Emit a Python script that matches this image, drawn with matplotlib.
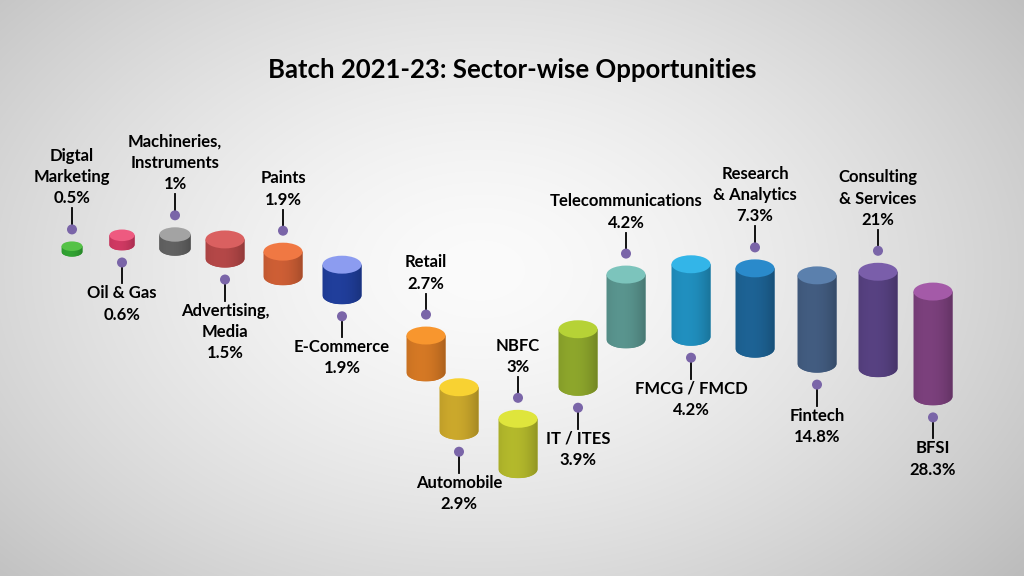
import numpy as np
import matplotlib
matplotlib.use("Agg")
import matplotlib.pyplot as plt
from matplotlib.patches import Ellipse, Polygon

# data
sectors = ["Digtal\nMarketing", "Oil & Gas", "Machineries,\nInstruments", "Advertising,\nMedia",
           "Paints", "E-Commerce", "Retail", "Automobile", "NBFC", "IT / ITES",
           "Telecommunications", "FMCG / FMCD", "Research\n& Analytics", "Fintech",
           "Consulting\n& Services", "BFSI"]
shares = [0.5, 0.6, 1, 1.5, 1.9, 1.9, 2.7, 2.9, 3, 3.9, 4.2, 4.2, 7.3, 14.8, 21, 28.3]
share_labels = ["0.5%", "0.6%", "1%", "1.5%", "1.9%", "1.9%", "2.7%", "2.9%", "3%", "3.9%",
                "4.2%", "4.2%", "7.3%", "14.8%", "21%", "28.3%"]

# layout (pixel space of the slide)
x_pos = [72, 122, 175, 225, 283, 342, 426, 459, 518, 578, 626, 691, 755, 817, 878, 933]
y_mid = [249, 240, 241.5, 249, 264, 280, 354, 409, 444, 358, 307, 300.5, 308.5, 319.5, 320, 344]

top_colors = ["#55c246", "#ee5a80", "#a3a3a3", "#da6060", "#f07843", "#8c9cf0", "#f8962e", "#f8d232",
              "#dfe53c", "#b6d236", "#7cc4bc", "#33b5e8", "#2a8acb", "#5b80ad", "#7a5eaa", "#a45aa8"]
side_colors = ["#2f9d30", "#c8375f", "#5e5e5e", "#ae4545", "#c65b33", "#1f3c96", "#cd7423", "#c4a22a",
               "#adb22a", "#88a02a", "#568f89", "#1f8ab8", "#1c5f8f", "#40597c", "#543f7d", "#773e78"]
dot_color = "#7a65a8"

W, H = 1024, 576
plt.rcParams["font.family"] = ["Lato", "DejaVu Sans"]

fig = plt.figure(figsize=(W / 100, H / 100), dpi=100)
ax = fig.add_axes([0, 0, 1, 1])
ax.set_xlim(0, W)
ax.set_ylim(H, 0)
ax.axis("off")

# radial grey background
gx, gy = np.meshgrid(np.arange(W), np.arange(H))
d = np.sqrt(((gx - 480) / 620) ** 2 + ((gy - 270) / 420) ** 2)
bg = np.clip(251 - 52 * d ** 1.5, 185, 255) / 255
ax.imshow(np.dstack([bg, bg, bg]), extent=[0, W, H, 0], zorder=0, interpolation="bilinear")

# cylinder height grows with the rank of the share
vals = np.array(shares)
rank = np.argsort(np.argsort(vals, kind="stable"), kind="stable") + 1
heights = 3 + 2.55 * rank ** 1.33
widths = np.minimum(39, 19 + 1.9 * rank ** 1.7)


def shade(hex_color, f):
    c = np.array(matplotlib.colors.to_rgb(hex_color))
    return np.clip(c * f, 0, 1)


for i in range(len(shares)):
    x = x_pos[i]
    h = heights[i]
    rx = widths[i] / 2
    ry = widths[i] * 0.23
    yt = y_mid[i] - h / 2
    yb = y_mid[i] + h / 2

    # body with a soft horizontal shading
    th = np.linspace(0, np.pi, 40)
    arc = np.column_stack([x + rx * np.cos(th), yb + ry * np.sin(th)])
    pts = np.vstack([[x + rx, yt], arc, [x - rx, yt]])
    body = Polygon(pts, closed=True, facecolor=side_colors[i], edgecolor="none", zorder=2)
    ax.add_patch(body)
    t = np.linspace(-1, 1, 60)
    prof = 1.04 - 0.12 * (t + 0.3) ** 2
    grad = np.array([shade(side_colors[i], f) for f in prof])[None, :, :]
    im = ax.imshow(grad, extent=[x - rx, x + rx, yb + ry, yt], aspect="auto",
                   zorder=2.1, interpolation="bilinear")
    im.set_clip_path(body)
    ax.add_patch(Ellipse((x, yt), 2 * rx, 2 * ry, facecolor=top_colors[i],
                         edgecolor="none", zorder=3))

    # connector dot, stem and label
    label = sectors[i] + "\n" + share_labels[i]
    if i % 2 == 0:
        dot_y = yt - ry - 12
        stem_end = dot_y - 21
        ax.text(x, stem_end - 2, label, ha="center", va="bottom",
                fontsize=12, fontweight="bold", linespacing=1.4, zorder=5)
    else:
        dot_y = yb + ry + 12
        stem_end = dot_y + 21
        ax.text(x, stem_end + 2, label, ha="center", va="top",
                fontsize=12, fontweight="bold", linespacing=1.4, zorder=5)
    ax.plot([x, x], [dot_y, stem_end], color="black", lw=1.3, zorder=4)
    ax.add_patch(Ellipse((x, dot_y), 10, 10, facecolor=dot_color, edgecolor="none", zorder=4.5))

ax.text(512, 70, "Batch 2021-23: Sector-wise Opportunities", ha="center", va="center",
        fontsize=18.5, fontweight="bold")

fig.savefig("out.png", dpi=100)
